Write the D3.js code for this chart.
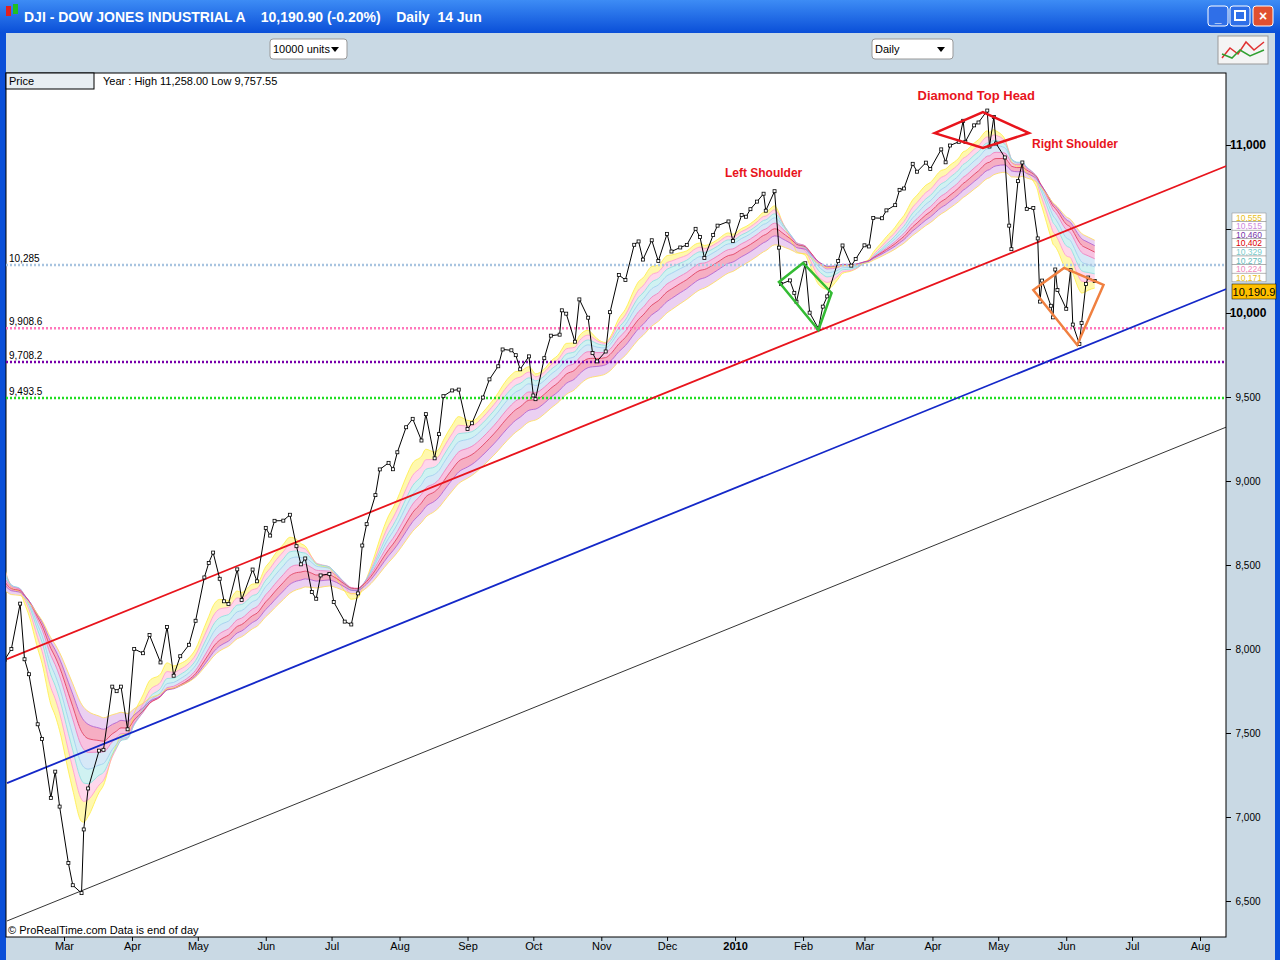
<!DOCTYPE html><html><head><meta charset="utf-8">
<script src="https://cdn.jsdelivr.net/npm/d3@7"></script>
<style>body{margin:0;background:#fff;font-family:Arial,"Liberation Sans",sans-serif}</style></head><body>
<svg id="c" width="1280" height="960"></svg>
<script>
const closes = [
["2009-02-02",7936],["2009-02-05",8000],["2009-02-09",8270],["2009-02-11",7939],["2009-02-13",7850],["2009-02-17",7552],["2009-02-19",7465],["2009-02-23",7114],["2009-02-25",7270],["2009-02-27",7062],["2009-03-03",6726],["2009-03-05",6594],["2009-03-09",6547],["2009-03-10",6926],["2009-03-12",7170],["2009-03-17",7395],["2009-03-19",7400],["2009-03-23",7776],["2009-03-25",7749],["2009-03-27",7776],["2009-03-30",7522],["2009-04-02",8000],["2009-04-06",7975],["2009-04-09",8083],["2009-04-14",7920],["2009-04-17",8131],["2009-04-20",7841],["2009-04-23",7957],["2009-04-27",8025],["2009-04-30",8168],["2009-05-04",8426],["2009-05-06",8512],["2009-05-08",8574],["2009-05-11",8418],["2009-05-13",8284],["2009-05-15",8268],["2009-05-19",8474],["2009-05-21",8292],["2009-05-26",8473],["2009-05-28",8403],["2009-06-01",8721],["2009-06-03",8675],["2009-06-05",8763],["2009-06-09",8764],["2009-06-12",8799],["2009-06-15",8612],["2009-06-17",8504],["2009-06-19",8539],["2009-06-22",8339],["2009-06-24",8299],["2009-06-26",8438],["2009-06-30",8447],["2009-07-02",8280],["2009-07-07",8163],["2009-07-10",8146],["2009-07-13",8331],["2009-07-15",8616],["2009-07-17",8743],["2009-07-21",8916],["2009-07-23",9069],["2009-07-27",9108],["2009-07-29",9070],["2009-07-31",9171],["2009-08-04",9320],["2009-08-07",9370],["2009-08-11",9241],["2009-08-13",9398],["2009-08-17",9135],["2009-08-19",9279],["2009-08-21",9505],["2009-08-25",9539],["2009-08-28",9544],["2009-09-01",9310],["2009-09-03",9344],["2009-09-08",9497],["2009-09-11",9605],["2009-09-15",9683],["2009-09-17",9783],["2009-09-21",9778],["2009-09-23",9749],["2009-09-25",9665],["2009-09-29",9742],["2009-10-01",9509],["2009-10-02",9487],["2009-10-06",9731],["2009-10-09",9865],["2009-10-13",9871],["2009-10-14",10016],["2009-10-16",9996],["2009-10-20",9829],["2009-10-22",10081],["2009-10-26",9972],["2009-10-28",9762],["2009-10-30",9712],["2009-11-03",9771],["2009-11-05",10005],["2009-11-09",10226],["2009-11-12",10197],["2009-11-16",10406],["2009-11-18",10426],["2009-11-20",10318],["2009-11-24",10433],["2009-11-27",10309],["2009-12-01",10471],["2009-12-03",10366],["2009-12-07",10390],["2009-12-10",10405],["2009-12-14",10501],["2009-12-16",10452],["2009-12-18",10328],["2009-12-22",10464],["2009-12-24",10520],["2009-12-29",10545],["2009-12-31",10428],["2010-01-04",10583],["2010-01-06",10573],["2010-01-08",10618],["2010-01-11",10663],["2010-01-14",10710],["2010-01-15",10609],["2010-01-19",10725],["2010-01-21",10389],["2010-01-22",10172],["2010-01-26",10194],["2010-01-28",10120],["2010-01-29",10067],["2010-02-02",10296],["2010-02-04",10002],["2010-02-08",9908],["2010-02-10",10038],["2010-02-12",10099],["2010-02-17",10309],["2010-02-19",10402],["2010-02-23",10282],["2010-02-25",10321],["2010-03-01",10403],["2010-03-03",10396],["2010-03-05",10566],["2010-03-09",10564],["2010-03-11",10611],["2010-03-15",10642],["2010-03-17",10733],["2010-03-19",10741],["2010-03-23",10888],["2010-03-25",10841],["2010-03-29",10895],["2010-03-31",10857],["2010-04-05",10974],["2010-04-07",10897],["2010-04-09",10997],["2010-04-13",11019],["2010-04-15",11144],["2010-04-16",11019],["2010-04-20",11117],["2010-04-22",11134],["2010-04-26",11205],["2010-04-27",10991],["2010-04-29",11167],["2010-04-30",11009],["2010-05-04",10926],["2010-05-06",10520],["2010-05-07",10380],["2010-05-10",10785],["2010-05-12",10896],["2010-05-14",10620],["2010-05-17",10625],["2010-05-19",10444],["2010-05-20",10068],["2010-05-21",10193],["2010-05-25",10043],["2010-05-26",9974],["2010-05-27",10259],["2010-05-28",10137],["2010-06-01",10025],["2010-06-03",10255],["2010-06-04",9931],["2010-06-07",9816],["2010-06-08",9940],["2010-06-10",10173],["2010-06-11",10211],["2010-06-14",10191]];
const ribbonTau = [11,14,17,20,24,28,33,39];
const ribbonSeed = [8480,8470,8455,8440,8420,8400,8380,8350];
const ribbonColors = ["#ffee44","#ff99cc","#88dddd","#99ccee","#ee77bb","#dd3355","#aa55cc","#ffdd55"];
const bandFills = ["#fff7a0","#ffd0e8","#c8f0f0","#cfe4f6","#f7b8dc","#f4a0b8","#e8c8f0"];
const ribbonLabels = ["10,555","10,515","10,460","10,402","10,329","10,279","10,224","10,171"];
const ribbonLabelColors = ["#e8c020","#cc88dd","#7733aa","#dd0000","#77cccc","#66bbbb","#ee88bb","#e8c020"];
const hLevels = [[10285,"10,285","#a8c4e0"],[9908.6,"9,908.6","#ff77bb"],[9708.2,"9,708.2","#7700aa"],[9493.5,"9,493.5","#22dd22"]];
const trendLines = [[["2009-02-03",7940],["2010-08-13",10875],"#e8141c",1.8],[["2009-02-03",7202],["2010-08-13",10143],"#1428c8",1.8],[["2009-02-03",6381],["2010-08-13",9321],"#000",0.8]];
const diamonds = [
 [[["2010-04-02",11071],["2010-04-24",11196],["2010-05-15",11071],["2010-04-24",10982]],"#e8141c"],
 [[["2010-01-21",10185],["2010-02-01",10298],["2010-02-14",10119],["2010-02-08",9899]],"#33bb33"],
 [[["2010-05-17",10137],["2010-05-31",10268],["2010-06-18",10167],["2010-06-06",9810]],"#f08040"]];
const notes = [["Diamond Top Head","2010-04-21",11270,13],["Left Shoulder","2010-01-14",10810,12],["Right Shoulder","2010-06-05",10980,12]];
const yTicks = [6500,7000,7500,8000,8500,9000,9500,10000,10500,11000];
const months = [["2009-03-01","Mar"],["2009-04-01","Apr"],["2009-05-01","May"],["2009-06-01","Jun"],["2009-07-01","Jul"],["2009-08-01","Aug"],["2009-09-01","Sep"],["2009-10-01","Oct"],["2009-11-01","Nov"],["2009-12-01","Dec"],["2010-01-01","2010"],["2010-02-01","Feb"],["2010-03-01","Mar"],["2010-04-01","Apr"],["2010-05-01","May"],["2010-06-01","Jun"],["2010-07-01","Jul"],["2010-08-01","Aug"]];

const P=d3.timeParse("%Y-%m-%d");
const svg=d3.select("#c");
const L=6,R=1226,T=73,B=937;
const x=d3.scaleTime().domain([P("2009-03-01"),P("2010-08-01")]).range([64,1200]);
const y=d3.scaleLinear().domain([10000,11000]).range([313,145]);
const data=closes.map(d=>({d:P(d[0]),v:d[1]}));

const defs=svg.append("defs");
const g1=defs.append("linearGradient").attr("id","tb").attr("x1",0).attr("y1",0).attr("x2",0).attr("y2",1);
g1.append("stop").attr("offset",0).attr("stop-color","#3d8cf5");g1.append("stop").attr("offset",1).attr("stop-color","#0a4fd8");
svg.append("rect").attr("width",1280).attr("height",960).attr("fill","#c9d9e4");
svg.append("rect").attr("width",1280).attr("height",33).attr("fill","url(#tb)");
svg.append("rect").attr("x",0).attr("y",33).attr("width",6).attr("height",927).attr("fill","#0a4fd8");
svg.append("rect").attr("x",1275).attr("y",33).attr("width",5).attr("height",927).attr("fill","#0a4fd8");
svg.append("rect").attr("x",6).attr("y",6).attr("width",5).attr("height",10).attr("fill","#e02020");
svg.append("rect").attr("x",13).attr("y",4).attr("width",5).attr("height",10).attr("fill","#20c020");
svg.append("text").attr("x",24).attr("y",22).attr("fill","#fff").attr("font-size",14).attr("font-weight","bold").text("DJI - DOW JONES INDUSTRIAL A    10,190.90 (-0.20%)    Daily  14 Jun").attr("xml:space","preserve");
[1208,1230,1253].forEach((bx,i)=>{svg.append("rect").attr("x",bx).attr("y",6).attr("width",20).attr("height",20).attr("rx",3).attr("fill",i==2?"#e05030":"#2f6fe8").attr("stroke","#fff");});
svg.append("text").attr("x",1218).attr("y",22).attr("fill","#fff").attr("font-size",12).attr("text-anchor","middle").attr("font-weight","bold").text("_");
svg.append("rect").attr("x",1235).attr("y",11).attr("width",10).attr("height",9).attr("fill","none").attr("stroke","#fff").attr("stroke-width",2);
svg.append("text").attr("x",1263).attr("y",21).attr("fill","#fff").attr("font-size",14).attr("text-anchor","middle").attr("font-weight","bold").text("×");
[[270,77,"10000 units"],[872,81,"Daily"]].forEach(([bx,w,t])=>{svg.append("rect").attr("x",bx).attr("y",39).attr("width",w).attr("height",20).attr("rx",3).attr("fill","#fff").attr("stroke","#999");
 svg.append("text").attr("x",bx+3).attr("y",53).attr("font-size",11).text(t);
 svg.append("path").attr("d",`M${bx+w-16},47h8l-4,5z`).attr("fill","#000");});
svg.append("rect").attr("x",1218).attr("y",36).attr("width",50).attr("height",28).attr("fill","#f4f4f4").attr("stroke","#999");
svg.append("path").attr("d","M1222,58l8,-10l8,6l8,-12l8,8l10,-8").attr("fill","none").attr("stroke","#e03030").attr("stroke-width",1.5);
svg.append("path").attr("d","M1222,54l10,4l8,-8l10,6l14,-6").attr("fill","none").attr("stroke","#30a030").attr("stroke-width",1.5);

svg.append("rect").attr("x",L).attr("y",T).attr("width",R-L).attr("height",B-T).attr("fill","#fff").attr("stroke","#000");
const clip=defs.append("clipPath").attr("id","pc");clip.append("rect").attr("x",L).attr("y",T).attr("width",R-L).attr("height",B-T);
const pg=svg.append("g").attr("clip-path","url(#pc)");

const emas=ribbonTau.map((tau,k)=>{let e=ribbonSeed[k];return data.map((p,i)=>{if(i>0){const dt=(p.d-data[i-1].d)/864e5;const a=1-Math.exp(-dt/tau);e=e+a*(p.v-e);}return {d:p.d,v:e};});});
for(let k=0;k<emas.length-1;k++){
 const area=d3.area().x((p,i)=>x(p.d)).y0((p,i)=>y(emas[k][i].v)).y1((p,i)=>y(emas[k+1][i].v)).curve(d3.curveMonotoneX);
 pg.append("path").attr("d",area(data)).attr("fill",bandFills[k]).attr("opacity",0.85);
}
emas.forEach((e,k)=>pg.append("path").attr("d",d3.line().x(p=>x(p.d)).y(p=>y(p.v)).curve(d3.curveMonotoneX)(e)).attr("fill","none").attr("stroke",ribbonColors[k]).attr("stroke-width",0.8));

hLevels.forEach(([v,t,c])=>{pg.append("line").attr("x1",L).attr("x2",R).attr("y1",y(v)).attr("y2",y(v)).attr("stroke",c).attr("stroke-width",2.5).attr("stroke-dasharray","2,2");
 svg.append("text").attr("x",9).attr("y",y(v)-3).attr("font-size",10).text(t);});
trendLines.forEach(([a,b,c,w])=>pg.append("line").attr("x1",x(P(a[0]))).attr("y1",y(a[1])).attr("x2",x(P(b[0]))).attr("y2",y(b[1])).attr("stroke",c).attr("stroke-width",w));
pg.append("path").attr("d",d3.line().x(p=>x(p.d)).y(p=>y(p.v))(data)).attr("fill","none").attr("stroke","#000").attr("stroke-width",1);
pg.selectAll("rect.pt").data(data).join("rect").attr("x",p=>x(p.d)-1.5).attr("y",p=>y(p.v)-1.5).attr("width",3).attr("height",3).attr("fill","#fff").attr("stroke","#000").attr("stroke-width",0.8);
diamonds.forEach(([pts,c])=>pg.append("path").attr("d",d3.line().x(p=>x(P(p[0]))).y(p=>y(p[1])).curve(d3.curveLinearClosed)(pts)).attr("fill","none").attr("stroke",c).attr("stroke-width",2.5));
notes.forEach(([t,d,v,s])=>svg.append("text").attr("x",x(P(d))).attr("y",y(v)).attr("text-anchor","middle").attr("font-size",s).attr("font-weight","bold").attr("fill","#e8141c").text(t));

svg.append("rect").attr("x",6).attr("y",73).attr("width",88).attr("height",16).attr("fill","#e8eef2").attr("stroke","#000");
svg.append("text").attr("x",9).attr("y",85).attr("font-size",11).text("Price");
svg.append("text").attr("x",103).attr("y",85).attr("font-size",11).text("Year : High 11,258.00 Low 9,757.55");
svg.append("text").attr("x",8).attr("y",934).attr("font-size",11).text("© ProRealTime.com  Data is end of day");

const ya=svg.append("g").attr("transform",`translate(${R},0)`).call(d3.axisRight(y).tickValues(yTicks).tickSize(5).tickFormat(d3.format(",")));
ya.select(".domain").remove();
ya.selectAll("text").attr("x",22).attr("text-anchor","middle").attr("font-family","Arial").attr("font-weight",d=>d%1000==0&&d>=10000?"bold":"normal").attr("font-size",d=>d%1000==0&&d>=10000?12:10);
const lg=svg.append("g");
const lh=8.6;
ribbonLabels.forEach((t,i)=>{lg.append("rect").attr("x",1232).attr("y",213+i*lh).attr("width",34).attr("height",lh).attr("fill","#fff").attr("stroke","#888").attr("stroke-width",0.5);
 lg.append("text").attr("x",1249).attr("y",220.5+i*lh).attr("text-anchor","middle").attr("font-size",8.5).attr("fill",ribbonLabelColors[i]).text(t);});
svg.append("rect").attr("x",1232).attr("y",284).attr("width",44).attr("height",15).attr("fill","#ffc000").attr("stroke","#000").attr("stroke-width",0.5);
svg.append("text").attr("x",1254).attr("y",295.5).attr("text-anchor","middle").attr("font-size",11).text("10,190.9");
const xa=svg.append("g").attr("transform",`translate(0,${B})`).call(d3.axisBottom(x).tickValues(months.map(m=>P(m[0]))).tickSize(4).tickFormat((d,i)=>months[i][1]));
xa.select(".domain").remove();
xa.selectAll("text").attr("font-size",11).attr("dy","0.55em").attr("font-family","Arial").attr("font-weight",(d,i)=>months[i][1]=="2010"?"bold":"normal");
</script></body></html>
